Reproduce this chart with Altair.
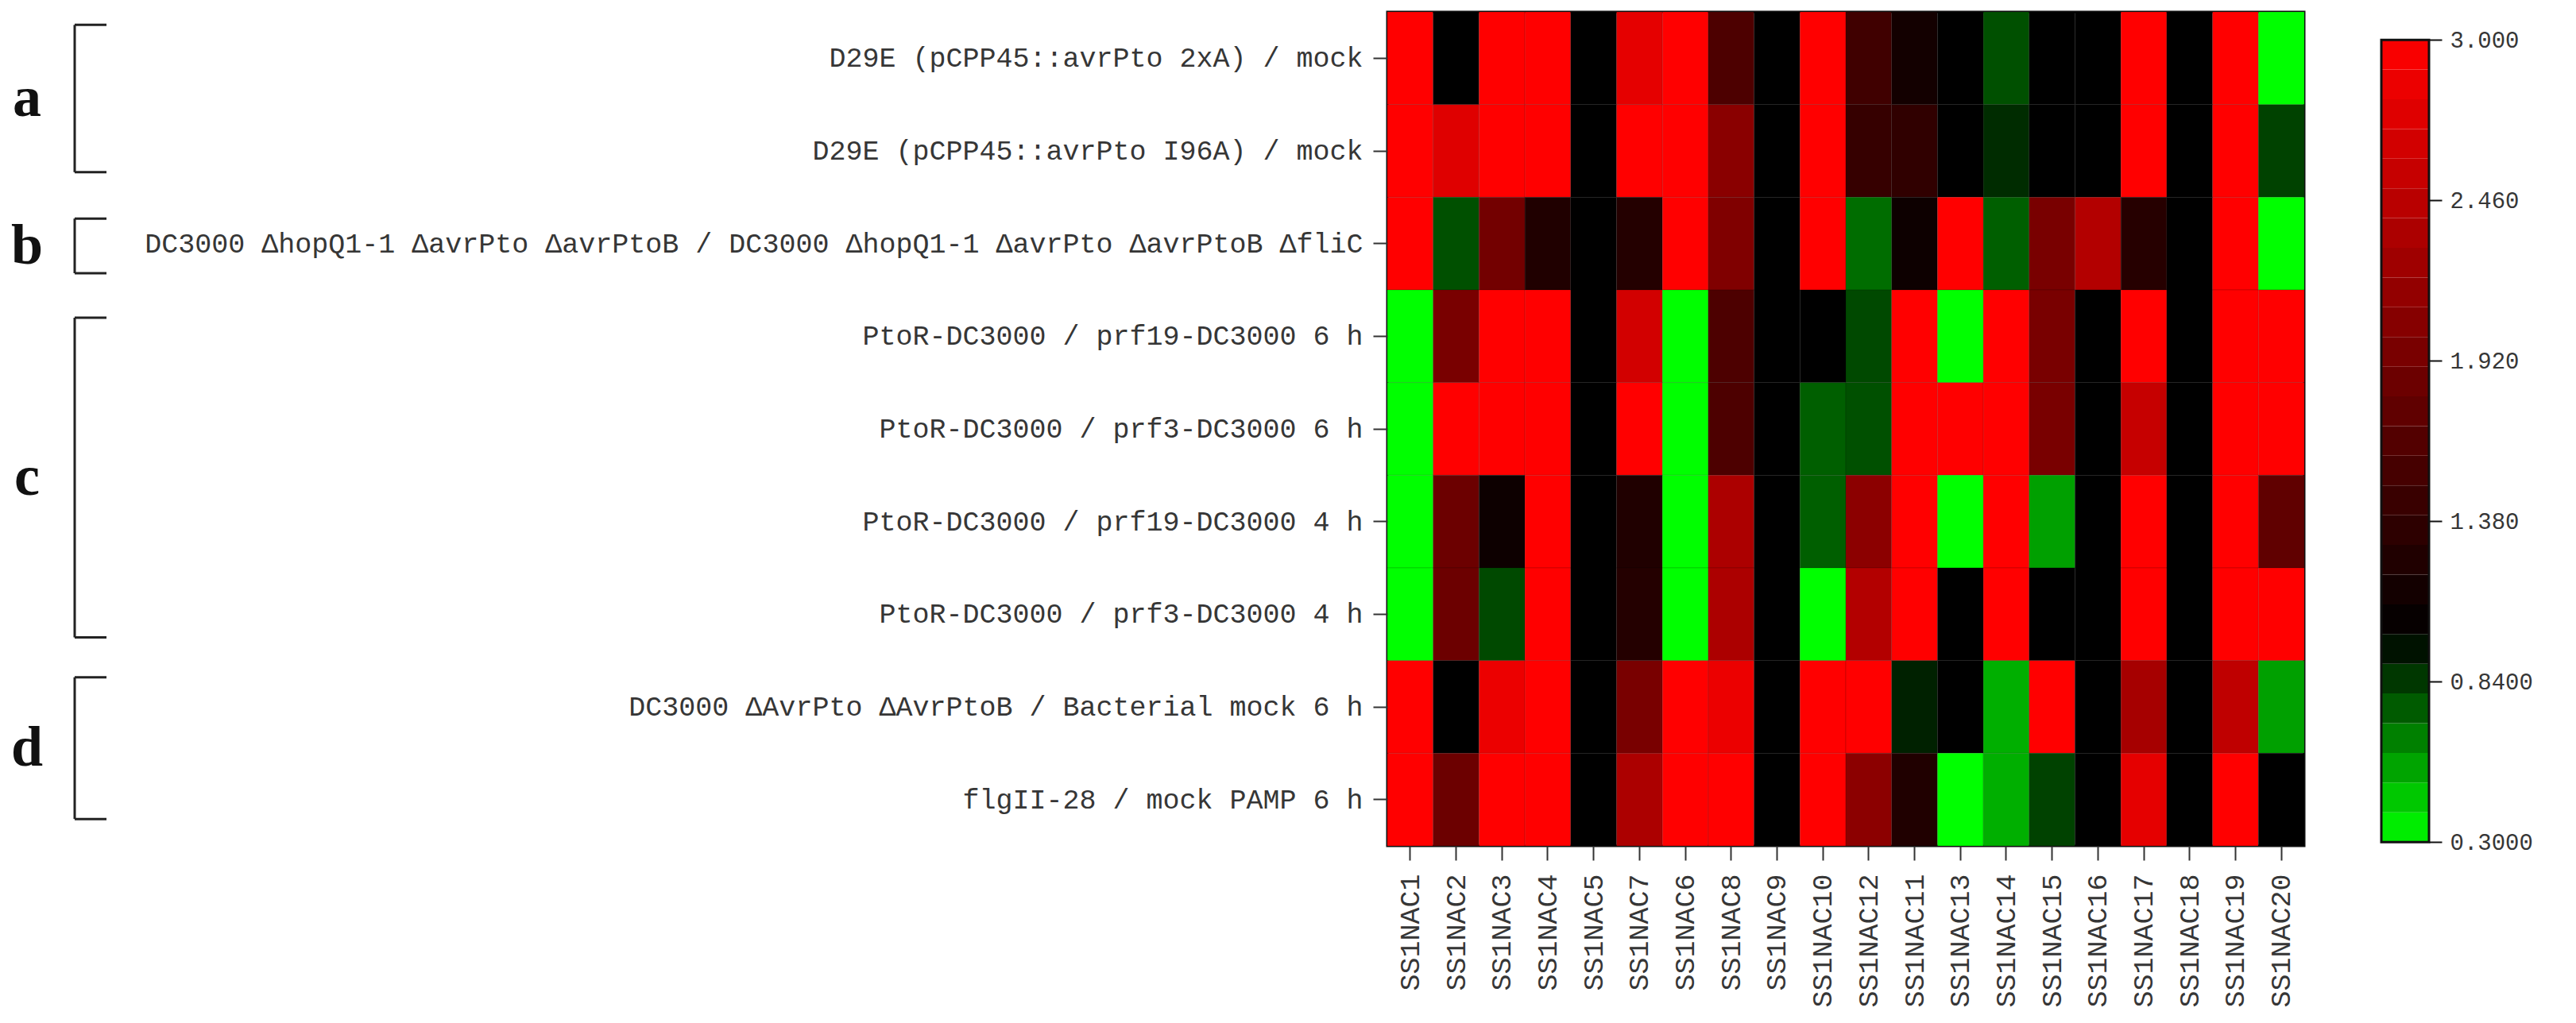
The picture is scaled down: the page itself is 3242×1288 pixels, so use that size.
import altair as alt
import pandas as pd

# ---------------- data ----------------
genes = ["SS1NAC1", "SS1NAC2", "SS1NAC3", "SS1NAC4", "SS1NAC5", "SS1NAC7", "SS1NAC6",
         "SS1NAC8", "SS1NAC9", "SS1NAC10", "SS1NAC12", "SS1NAC11", "SS1NAC13", "SS1NAC14",
         "SS1NAC15", "SS1NAC16", "SS1NAC17", "SS1NAC18", "SS1NAC19", "SS1NAC20"]

treatments = [
    "D29E (pCPP45::avrPto 2xA) / mock",
    "D29E (pCPP45::avrPto I96A) / mock",
    "DC3000 ΔhopQ1-1 ΔavrPto ΔavrPtoB / DC3000 ΔhopQ1-1 ΔavrPto ΔavrPtoB ΔfliC",
    "PtoR-DC3000 / prf19-DC3000 6 h",
    "PtoR-DC3000 / prf3-DC3000 6 h",
    "PtoR-DC3000 / prf19-DC3000 4 h",
    "PtoR-DC3000 / prf3-DC3000 4 h",
    "DC3000 ΔAvrPto ΔAvrPtoB / Bacterial mock 6 h",
    "flgII-28 / mock PAMP 6 h",
]

row_d29e_2xa = [3.0, 1.0, 3.0, 3.0, 1.0, 2.8, 3.0, 1.6, 1.0, 3.0, 1.5, 1.15, 1.0, 0.78, 1.0, 1.0, 3.0, 1.0, 3.0, 0.3]
row_d29e_i96a = [3.0, 2.75, 3.0, 3.0, 1.0, 3.0, 3.0, 2.08, 1.0, 3.0, 1.42, 1.38, 1.0, 0.88, 1.0, 1.0, 3.0, 1.0, 3.0, 0.82]
row_dc3000_flic = [3.0, 0.78, 1.9, 1.25, 1.0, 1.28, 3.0, 2.0, 1.0, 3.0, 0.7, 1.1, 3.0, 0.74, 1.95, 2.4, 1.3, 1.0, 3.0, 0.3]
row_prf19_6h = [0.3, 1.95, 3.0, 3.0, 1.0, 2.65, 0.3, 1.6, 1.0, 1.0, 0.8, 3.0, 0.3, 3.0, 1.95, 1.0, 3.0, 1.0, 3.0, 3.0]
row_prf3_6h = [0.3, 3.0, 3.0, 3.0, 1.0, 3.0, 0.3, 1.6, 1.0, 0.74, 0.78, 3.0, 3.0, 3.0, 1.95, 1.0, 2.55, 1.0, 3.0, 3.0]
row_prf19_4h = [0.3, 1.85, 1.1, 3.0, 1.0, 1.25, 0.3, 2.35, 1.0, 0.74, 2.1, 3.0, 0.3, 3.0, 0.56, 1.0, 3.0, 1.0, 3.0, 1.75]
row_prf3_4h = [0.3, 1.85, 0.8, 3.0, 1.0, 1.28, 0.3, 2.35, 1.0, 0.3, 2.4, 3.0, 1.0, 3.0, 1.0, 1.0, 3.0, 1.0, 3.0, 3.0]
row_bact_mock = [3.0, 1.0, 2.85, 3.0, 1.0, 1.95, 3.0, 2.85, 1.0, 3.0, 3.0, 0.91, 1.0, 0.52, 3.0, 1.0, 2.3, 1.0, 2.5, 0.56]
row_flg22 = [3.0, 1.85, 3.0, 3.0, 1.0, 2.35, 3.0, 3.0, 1.0, 3.0, 2.1, 1.25, 0.3, 0.52, 0.82, 1.0, 2.8, 1.0, 3.0, 1.0]

rows = [row_d29e_2xa, row_d29e_i96a, row_dc3000_flic, row_prf19_6h, row_prf3_6h,
        row_prf19_4h, row_prf3_4h, row_bact_mock, row_flg22]

# group brackets (in row units from the top of the heatmap)
bracket_letters = ["a", "b", "c", "d"]
bracket_top = [0.14, 2.23, 3.30, 7.18]
bracket_bottom = [1.73, 2.82, 6.75, 8.71]

# colour key
legend_ticks = [0.3, 0.84, 1.38, 1.92, 2.46, 3.0]
band_edges = [round(0.3 + 0.1 * i, 2) for i in range(28)]

# ---------------- tables ----------------
records = []
for t, vals in zip(treatments, rows):
    for g, v in zip(genes, vals):
        records.append({"treatment": t, "gene": g, "value": v})
heat_df = pd.DataFrame(records)

br_df = pd.DataFrame({"letter": bracket_letters, "top": bracket_top, "bottom": bracket_bottom})
br_df["mid"] = (br_df["top"] + br_df["bottom"]) / 2

band_df = pd.DataFrame({"lo": band_edges[:-1], "hi": band_edges[1:]})
band_df["mid"] = (band_df["lo"] + band_df["hi"]) / 2
frame_df = pd.DataFrame({"lo": [band_edges[0]], "hi": [band_edges[-1]]})

# ---------------- styling ----------------
FONT = "Liberation Mono"
TXT = "#363636"
color_scale = alt.Scale(domain=[0.3, 1.0, 3.0], range=["#00ff00", "#000000", "#ff0000"],
                        interpolate="rgb", clamp=True)
H = 1050
NO_BORDER = alt.ViewBackground(strokeOpacity=0, strokeWidth=0)

# ---------------- brackets panel ----------------
xs = alt.Scale(domain=[-2.0, 1.1], nice=False, zero=False)
ys = alt.Scale(domain=[0, 9], reverse=True, nice=False, zero=False)

base_br = alt.Chart(br_df)
vline = base_br.mark_rule(color="#222222", strokeWidth=3).encode(
    x=alt.XDatum(0, type="quantitative", scale=xs, axis=None),
    y=alt.Y("top:Q", scale=ys, axis=None),
    y2="bottom:Q",
)
top_tick = base_br.mark_rule(color="#222222", strokeWidth=3).encode(
    x=alt.XDatum(0, type="quantitative", scale=xs, axis=None),
    x2=alt.X2Datum(1),
    y=alt.Y("top:Q", scale=ys, axis=None),
)
bot_tick = base_br.mark_rule(color="#222222", strokeWidth=3).encode(
    x=alt.XDatum(0, type="quantitative", scale=xs, axis=None),
    x2=alt.X2Datum(1),
    y=alt.Y("bottom:Q", scale=ys, axis=None),
)
letters = base_br.mark_text(font="Liberation Serif", fontWeight="bold", fontSize=72,
                            color="#111111", align="center", baseline="middle").encode(
    x=alt.XDatum(-1.5, type="quantitative", scale=xs, axis=None),
    y=alt.Y("mid:Q", scale=ys, axis=None),
    text="letter:N",
)
brackets = alt.layer(vline, top_tick, bot_tick, letters).properties(
    width=124, height=H, view=NO_BORDER)

# ---------------- heatmap ----------------
heat = alt.Chart(heat_df).mark_rect(stroke="#000000", strokeWidth=1, strokeOpacity=0.15).encode(
    x=alt.X("gene:N", sort=genes, title=None,
            axis=alt.Axis(labelAngle=270, labelFont=FONT, labelFontSize=35, labelColor=TXT,
                          tickSize=18, tickWidth=2, tickColor="#333333", labelPadding=17,
                          domain=False, labelLimit=400)),
    y=alt.Y("treatment:N", sort=treatments, title=None,
            axis=alt.Axis(labelFont=FONT, labelFontSize=35, labelColor=TXT, labelLimit=3000,
                          tickSize=18, tickWidth=2, tickColor="#333333", labelPadding=13,
                          domain=False)),
    color=alt.Color("value:Q", scale=color_scale, legend=None),
).properties(width=1154, height=H,
             view=alt.ViewBackground(stroke="#111111", strokeWidth=3, strokeOpacity=1))

# ---------------- colour bar ----------------
cb_y = alt.Scale(domain=[0.287, 3.094], nice=False, zero=False)
bands = alt.Chart(band_df).mark_rect().encode(
    y=alt.Y("lo:Q", scale=cb_y, title=None,
            axis=alt.Axis(orient="right", values=legend_ticks, domain=False, grid=False,
                          tickSize=16, tickWidth=2, tickColor="#111111", labelPadding=10,
                          labelFont=FONT, labelFontSize=29, labelColor=TXT,
                          labelExpr="datum.value >= 1 ? format(datum.value, '.3f') : format(datum.value, '.4f')")),
    y2="hi:Q",
    color=alt.Color("mid:Q", scale=color_scale, legend=None),
)
frame = alt.Chart(frame_df).mark_rect(fillOpacity=0, stroke="#111111", strokeWidth=3).encode(
    y=alt.Y("lo:Q", scale=cb_y),
    y2="hi:Q",
)
colorbar = alt.layer(bands, frame).properties(width=60, height=H, view=NO_BORDER)

chart = alt.hconcat(
    alt.hconcat(brackets, heat, spacing=42),
    colorbar,
    spacing=93,
).configure_view(strokeOpacity=0).configure(background="white")

chart.save("out.html", embed_options={"renderer": "svg", "actions": False})
